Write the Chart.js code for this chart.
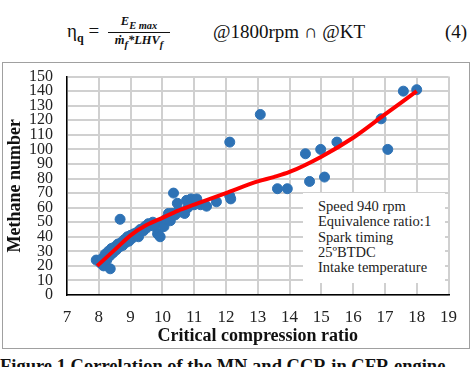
<!DOCTYPE html>
<html>
<head>
<meta charset="utf-8">
<script src="https://cdn.jsdelivr.net/npm/chart.js@4"></script>
<style>
  body { margin: 0; width: 474px; height: 367px; overflow: hidden; background: #fff; font-family: "Liberation Serif", serif; position: relative; }
  #eq { position: absolute; left: 0; top: 12px; width: 474px; height: 40px; font-size: 19px; color: #111; }
  #eq .eta { position: absolute; left: 67px; top: 8px; }
  #eq .eta sub { font-weight: bold; font-size: 12px; }
  #eq .frac { position: absolute; left: 108px; top: 2px; font-style: italic; font-weight: bold; font-size: 12.5px; text-align: center; width: 62px; }
  #eq .frac .num { border-bottom: 1px solid #111; padding-bottom: 1px; }
  #eq .at { position: absolute; left: 213px; top: 9px; }
  #eq .no { position: absolute; left: 445px; top: 9px; }
  #box { position: absolute; left: 2px; top: 62px; width: 466px; height: 285px; border: 1px solid #a0a0a0; }
  #note { position: absolute; left: 300px; top: 130px; width: 142px; height: 90px; background: #fff; padding: 6px 0 0 15px; box-sizing: border-box; font-size: 14.5px; line-height: 15.3px; color: #222; }
  #cap { position: absolute; left: 0; top: 356px; font-size: 18.5px; font-weight: bold; white-space: nowrap; color: #111; }
</style>
</head>
<body>
<div id="eq">
  <span class="eta">η<sub>q</sub> =</span>
  <div class="frac"><div class="num">E<sub>E max</sub></div><div>ṁ<sub>f</sub>*LHV<sub>f</sub></div></div>
  <span class="at">@1800rpm ∩ @KT</span>
  <span class="no">(4)</span>
</div>
<div id="box">
  <canvas id="chart" width="466" height="285"></canvas>
  <div id="note">Speed 940 rpm<br>Equivalence ratio:1<br>Spark timing<br>25ºBTDC<br>Intake temperature</div>
</div>
<div id="cap">Figure 1 Correlation of the MN and CCR in CFR engine</div>
<script>
// measured points: critical compression ratio vs methane number
const ccr = [7.92, 8.05, 8.1, 8.15, 8.2, 8.25, 8.3, 8.36, 8.35, 8.4, 8.45, 8.5, 8.55, 8.6, 8.65, 8.67,
  8.7, 8.75, 8.8, 8.85, 8.9, 8.95, 9.0, 9.05, 9.1, 9.2, 9.25, 9.3, 9.4, 9.45, 9.5, 9.56, 9.6,
  9.7, 9.75, 9.85, 9.87, 9.93, 10.0, 10.05, 10.1, 10.19, 10.25, 10.3, 10.35, 10.4, 10.5, 10.47,
  10.6, 10.7, 10.76, 10.8, 10.85, 10.9, 10.95, 11.0, 11.08, 11.2, 11.39, 11.7, 12.12, 12.15,
  12.12, 13.08, 13.62, 13.93, 14.5, 14.63, 14.98, 15.1, 15.49, 16.88, 17.09, 17.58, 18.0];
const mn = [24, 22, 25, 20, 28, 24, 30, 18, 27, 32, 29, 33, 31, 35, 33, 52,
  36, 34, 38, 36, 40, 37, 41, 39, 42, 43, 40, 45, 44, 47, 46, 49, 48,
  50, 47, 42, 42, 40, 50, 47, 52, 56, 51, 56, 70, 55, 58, 63,
  57, 56, 65, 60, 63, 66, 64, 62, 66, 62, 61, 64, 68, 66,
  105, 124, 73, 73, 97, 78, 100, 81, 105, 121, 100, 140, 141];

// fitted trend line
const fitX = [7.95, 8.5, 9, 9.5, 10, 10.5, 11, 12, 13, 13.5, 14, 15, 16, 17, 18];
const fitY = [20, 31, 41, 48, 53, 58, 62, 70, 78, 81, 84.5, 95, 108, 124, 140];

const xTicks = [7, 19];
const yTicks = [0, 150];

const pts = ccr.map((x, i) => ({ x: x, y: mn[i] }));
const fit = fitX.map((x, i) => ({ x: x, y: fitY[i] }));

const serif = "'Liberation Serif', serif";
Chart.defaults.font.family = serif;

new Chart(document.getElementById('chart'), {
  type: 'scatter',
  data: {
    datasets: [
      {
        data: fit,
        showLine: true,
        borderColor: '#ff0000',
        borderWidth: 4,
        pointRadius: 0,
        cubicInterpolationMode: 'monotone',
        order: 0
      },
      {
        data: pts,
        backgroundColor: '#2e72b5',
        borderColor: '#2e72b5',
        pointRadius: 5,
        order: 1
      }
    ]
  },
  options: {
    responsive: false,
    animation: false,
    layout: { padding: { top: 6, right: 20, left: 0, bottom: 0 } },
    plugins: { legend: { display: false }, tooltip: { enabled: false } },
    scales: {
      x: {
        type: 'linear',
        min: xTicks[0],
        max: xTicks[1],
        afterFit: s => { s.height = 53; },
        grid: { color: '#d0d0d0', lineWidth: 2, drawTicks: false },
        border: { color: '#000', width: 1.5 },
        ticks: { stepSize: 1, autoSkip: false, maxRotation: 0, color: '#222', padding: 12, font: { family: serif, size: 17 } },
        title: { display: true, text: 'Critical compression ratio', color: '#111',
          font: { family: serif, size: 18, weight: 'bold' }, padding: { top: 0, bottom: 1 } }
      },
      y: {
        min: yTicks[0],
        max: yTicks[1],
        afterFit: s => { s.width = 64; },
        // transparent tick marks push the labels left without adding top padding
        grid: { color: '#d0d0d0', lineWidth: 2, drawTicks: true, tickLength: 10, tickColor: 'rgba(0,0,0,0)' },
        border: { color: '#000', width: 1.5 },
        ticks: { stepSize: 10, autoSkip: false, color: '#222', padding: 4, font: { family: serif, size: 16 } },
        title: { display: true, text: 'Methane number', color: '#111',
          font: { family: serif, size: 18, weight: 'bold' }, padding: { top: 2, bottom: 0 } }
      }
    }
  }
});
</script>
</body>
</html>
